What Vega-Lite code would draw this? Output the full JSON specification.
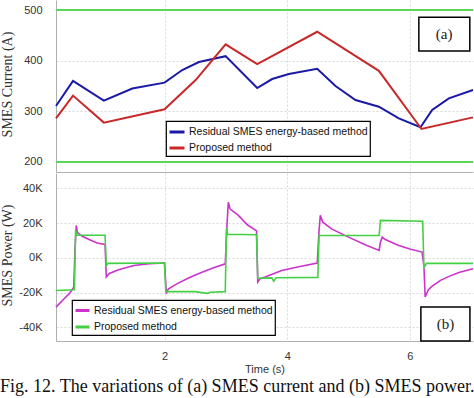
{
  "$schema": "https://vega.github.io/schema/vega-lite/v6.json",
  "padding": 0,
  "background": "white",
  "spacing": 1,
  "config": {
    "view": {"stroke": null},
    "axis": {
      "labelFont": "Liberation Sans",
      "labelFontSize": 11,
      "labelColor": "#333",
      "domainColor": "#b0b0b0",
      "gridColor": "#d9d9d9",
      "gridDash": [2, 2],
      "ticks": false,
      "titleFontWeight": "normal",
      "titleColor": "#333"
    }
  },
  "title": {
    "text": "Fig. 12. The variations of (a) SMES current and (b) SMES power.",
    "orient": "bottom",
    "anchor": "start",
    "frame": "bounds",
    "font": "Liberation Serif",
    "fontSize": 18,
    "fontWeight": "normal",
    "color": "#111",
    "offset": 4
  },
  "resolve": {"scale": {"color": "independent"}, "legend": {"color": "independent"}},
  "vconcat": [
    {
      "width": 417,
      "height": 172,
      "layer": [
        {
          "data": {"values": [{"lim": 500}, {"lim": 200}]},
          "mark": {"type": "rule", "color": "#5ad65a", "strokeWidth": 2},
          "encoding": {
            "y": {"field": "lim", "type": "quantitative", "scale": {"domain": [180, 520], "nice": false, "zero": false}}
          }
        },
        {
          "data": {"values": [
            {"t": 0.23, "I": 310.5, "method": "Residual SMES energy-based method"},
            {"t": 0.507, "I": 360, "method": "Residual SMES energy-based method"},
            {"t": 1.01, "I": 321, "method": "Residual SMES energy-based method"},
            {"t": 1.474, "I": 345, "method": "Residual SMES energy-based method"},
            {"t": 2.0, "I": 356.6, "method": "Residual SMES energy-based method"},
            {"t": 2.289, "I": 381.6, "method": "Residual SMES energy-based method"},
            {"t": 2.561, "I": 397.3, "method": "Residual SMES energy-based method"},
            {"t": 2.996, "I": 409, "method": "Residual SMES energy-based method"},
            {"t": 3.511, "I": 346, "method": "Residual SMES energy-based method"},
            {"t": 3.755, "I": 363.8, "method": "Residual SMES energy-based method"},
            {"t": 4.027, "I": 373.7, "method": "Residual SMES energy-based method"},
            {"t": 4.489, "I": 384, "method": "Residual SMES energy-based method"},
            {"t": 4.788, "I": 350, "method": "Residual SMES energy-based method"},
            {"t": 5.114, "I": 322.3, "method": "Residual SMES energy-based method"},
            {"t": 5.495, "I": 309, "method": "Residual SMES energy-based method"},
            {"t": 5.821, "I": 286, "method": "Residual SMES energy-based method"},
            {"t": 6.174, "I": 268.4, "method": "Residual SMES energy-based method"},
            {"t": 6.364, "I": 302.6, "method": "Residual SMES energy-based method"},
            {"t": 6.636, "I": 325.6, "method": "Residual SMES energy-based method"},
            {"t": 7.03, "I": 342, "method": "Residual SMES energy-based method"},
            {"t": 0.23, "I": 286, "method": "Proposed method"},
            {"t": 0.507, "I": 331, "method": "Proposed method"},
            {"t": 1.01, "I": 277.6, "method": "Proposed method"},
            {"t": 2.0, "I": 304, "method": "Proposed method"},
            {"t": 2.507, "I": 361.8, "method": "Proposed method"},
            {"t": 2.996, "I": 432.2, "method": "Proposed method"},
            {"t": 3.511, "I": 393.4, "method": "Proposed method"},
            {"t": 4.489, "I": 457.2, "method": "Proposed method"},
            {"t": 5.495, "I": 380, "method": "Proposed method"},
            {"t": 6.19, "I": 265, "method": "Proposed method"},
            {"t": 7.03, "I": 288, "method": "Proposed method"}
          ]},
          "mark": {"type": "line", "strokeWidth": 2},
          "encoding": {
            "x": {"field": "t", "type": "quantitative",
              "scale": {"domain": [0.23, 7.03], "nice": false, "zero": false},
              "axis": {"title": null, "labels": false, "values": [2, 4, 6], "grid": true, "domain": true}},
            "y": {"field": "I", "type": "quantitative",
              "scale": {"domain": [180, 520], "nice": false, "zero": false},
              "axis": {"title": "SMES Current (A)", "values": [200, 300, 400, 500], "labelPadding": 14,
                "titleFont": "Liberation Serif", "titleFontSize": 14, "titleX": -42, "titleY": 84, "grid": true}},
            "color": {"field": "method", "type": "nominal",
              "scale": {"domain": ["Residual SMES energy-based method", "Proposed method"], "range": ["#1a1aa6", "#c82828"]},
              "legend": {"title": null, "orient": "none", "legendX": 110, "legendY": 121,
                "fillColor": "white", "strokeColor": "black", "padding": 2, "rowPadding": 1,
                "labelFont": "Liberation Sans", "labelFontSize": 10.5, "labelColor": "#111", "labelLimit": 300,
                "symbolType": "stroke", "symbolSize": 225, "symbolStrokeWidth": 3, "labelOffset": 3,
                "encode": {"legend": {"update": {"strokeWidth": {"value": 1.2}}}}}}
          }
        },
        {
          "data": {"values": [{"x1": 6.147, "x2": 6.978, "y1": 486, "y2": 419, "xc": 6.56, "yc": 452.5, "label": "(a)"}]},
          "layer": [
            {"mark": {"type": "rect", "fill": "white", "stroke": "black", "strokeWidth": 1.5},
             "encoding": {"x": {"field": "x1", "type": "quantitative"}, "x2": {"field": "x2"}, "y": {"field": "y1", "type": "quantitative"}, "y2": {"field": "y2"}}},
            {"mark": {"type": "text", "font": "Liberation Serif", "fontSize": 15, "color": "#222"},
             "encoding": {"x": {"field": "xc", "type": "quantitative"}, "y": {"field": "yc", "type": "quantitative"}, "text": {"field": "label"}}}
          ]
        }
      ]
    },
    {
      "width": 417,
      "height": 168,
      "layer": [
        {
          "data": {"values": [
            {"t": 0.23, "P": -28.4, "method": "Residual SMES energy-based method"},
            {"t": 0.35, "P": -24, "method": "Residual SMES energy-based method"},
            {"t": 0.45, "P": -20.5, "method": "Residual SMES energy-based method"},
            {"t": 0.52, "P": -17, "method": "Residual SMES energy-based method"},
            {"t": 0.54, "P": 5, "method": "Residual SMES energy-based method"},
            {"t": 0.56, "P": 18.6, "method": "Residual SMES energy-based method"},
            {"t": 0.58, "P": 14.5, "method": "Residual SMES energy-based method"},
            {"t": 0.65, "P": 12.5, "method": "Residual SMES energy-based method"},
            {"t": 0.77, "P": 10.5, "method": "Residual SMES energy-based method"},
            {"t": 0.9, "P": 8.5, "method": "Residual SMES energy-based method"},
            {"t": 1.03, "P": 7.7, "method": "Residual SMES energy-based method"},
            {"t": 1.05, "P": -11, "method": "Residual SMES energy-based method"},
            {"t": 1.1, "P": -9, "method": "Residual SMES energy-based method"},
            {"t": 1.25, "P": -6.9, "method": "Residual SMES energy-based method"},
            {"t": 1.5, "P": -4.4, "method": "Residual SMES energy-based method"},
            {"t": 1.75, "P": -3.4, "method": "Residual SMES energy-based method"},
            {"t": 2.0, "P": -3, "method": "Residual SMES energy-based method"},
            {"t": 2.03, "P": -20.7, "method": "Residual SMES energy-based method"},
            {"t": 2.06, "P": -18, "method": "Residual SMES energy-based method"},
            {"t": 2.2, "P": -15, "method": "Residual SMES energy-based method"},
            {"t": 2.4, "P": -11.5, "method": "Residual SMES energy-based method"},
            {"t": 2.6, "P": -8.5, "method": "Residual SMES energy-based method"},
            {"t": 2.8, "P": -5.8, "method": "Residual SMES energy-based method"},
            {"t": 2.99, "P": -3.5, "method": "Residual SMES energy-based method"},
            {"t": 3.02, "P": 20, "method": "Residual SMES energy-based method"},
            {"t": 3.04, "P": 32, "method": "Residual SMES energy-based method"},
            {"t": 3.07, "P": 28, "method": "Residual SMES energy-based method"},
            {"t": 3.2, "P": 24.5, "method": "Residual SMES energy-based method"},
            {"t": 3.35, "P": 19, "method": "Residual SMES energy-based method"},
            {"t": 3.5, "P": 15.5, "method": "Residual SMES energy-based method"},
            {"t": 3.52, "P": -14, "method": "Residual SMES energy-based method"},
            {"t": 3.56, "P": -12, "method": "Residual SMES energy-based method"},
            {"t": 3.64, "P": -11, "method": "Residual SMES energy-based method"},
            {"t": 3.91, "P": -7.3, "method": "Residual SMES energy-based method"},
            {"t": 4.19, "P": -5.2, "method": "Residual SMES energy-based method"},
            {"t": 4.49, "P": -3, "method": "Residual SMES energy-based method"},
            {"t": 4.52, "P": 16, "method": "Residual SMES energy-based method"},
            {"t": 4.54, "P": 24.4, "method": "Residual SMES energy-based method"},
            {"t": 4.58, "P": 20.5, "method": "Residual SMES energy-based method"},
            {"t": 4.73, "P": 16.5, "method": "Residual SMES energy-based method"},
            {"t": 5.0, "P": 11.9, "method": "Residual SMES energy-based method"},
            {"t": 5.28, "P": 7.3, "method": "Residual SMES energy-based method"},
            {"t": 5.5, "P": 4.2, "method": "Residual SMES energy-based method"},
            {"t": 5.52, "P": 9, "method": "Residual SMES energy-based method"},
            {"t": 5.55, "P": 11.9, "method": "Residual SMES energy-based method"},
            {"t": 5.6, "P": 10.5, "method": "Residual SMES energy-based method"},
            {"t": 5.82, "P": 7.1, "method": "Residual SMES energy-based method"},
            {"t": 6.0, "P": 5, "method": "Residual SMES energy-based method"},
            {"t": 6.2, "P": 3.3, "method": "Residual SMES energy-based method"},
            {"t": 6.23, "P": -5, "method": "Residual SMES energy-based method"},
            {"t": 6.25, "P": -22.6, "method": "Residual SMES energy-based method"},
            {"t": 6.3, "P": -18.5, "method": "Residual SMES energy-based method"},
            {"t": 6.36, "P": -16.5, "method": "Residual SMES energy-based method"},
            {"t": 6.5, "P": -13, "method": "Residual SMES energy-based method"},
            {"t": 6.64, "P": -10.7, "method": "Residual SMES energy-based method"},
            {"t": 6.8, "P": -8.5, "method": "Residual SMES energy-based method"},
            {"t": 7.03, "P": -6.3, "method": "Residual SMES energy-based method"},
            {"t": 0.23, "P": -18.8, "method": "Proposed method"},
            {"t": 0.53, "P": -18.4, "method": "Proposed method"},
            {"t": 0.55, "P": 16, "method": "Proposed method"},
            {"t": 0.57, "P": 13, "method": "Proposed method"},
            {"t": 1.03, "P": 13, "method": "Proposed method"},
            {"t": 1.05, "P": -4.5, "method": "Proposed method"},
            {"t": 1.08, "P": -3.2, "method": "Proposed method"},
            {"t": 2.0, "P": -3, "method": "Proposed method"},
            {"t": 2.02, "P": -19.5, "method": "Proposed method"},
            {"t": 2.5, "P": -19.5, "method": "Proposed method"},
            {"t": 2.7, "P": -20.5, "method": "Proposed method"},
            {"t": 2.75, "P": -19.8, "method": "Proposed method"},
            {"t": 2.99, "P": -19.5, "method": "Proposed method"},
            {"t": 3.01, "P": 17, "method": "Proposed method"},
            {"t": 3.03, "P": 13.5, "method": "Proposed method"},
            {"t": 3.5, "P": 13.3, "method": "Proposed method"},
            {"t": 3.52, "P": -11.8, "method": "Proposed method"},
            {"t": 3.75, "P": -11.6, "method": "Proposed method"},
            {"t": 3.78, "P": -13.5, "method": "Proposed method"},
            {"t": 3.82, "P": -11.5, "method": "Proposed method"},
            {"t": 4.5, "P": -11.3, "method": "Proposed method"},
            {"t": 4.52, "P": 12.8, "method": "Proposed method"},
            {"t": 5.5, "P": 12.8, "method": "Proposed method"},
            {"t": 5.52, "P": 21.5, "method": "Proposed method"},
            {"t": 6.21, "P": 21, "method": "Proposed method"},
            {"t": 6.23, "P": -6, "method": "Proposed method"},
            {"t": 6.27, "P": -3.2, "method": "Proposed method"},
            {"t": 7.03, "P": -3.2, "method": "Proposed method"}
          ]},
          "mark": {"type": "line", "strokeWidth": 1.6},
          "encoding": {
            "x": {"field": "t", "type": "quantitative",
              "scale": {"domain": [0.23, 7.03], "nice": false, "zero": false},
              "axis": {"title": "Time (s)", "values": [2, 4, 6], "format": "d", "grid": true, "labelPadding": 9, "titlePadding": 2,
                "titleFont": "Liberation Sans", "titleFontSize": 11}},
            "y": {"field": "P", "type": "quantitative",
              "scale": {"domain": [-47.9, 48.8], "nice": false, "zero": false},
              "axis": {"title": "SMES Power (W)", "values": [-40, -20, 0, 20, 40], "labelExpr": "datum.value + 'K'", "labelPadding": 14,
                "titleFont": "Liberation Serif", "titleFontSize": 14, "titleX": -42, "titleY": 82, "grid": true}},
            "color": {"field": "method", "type": "nominal",
              "scale": {"domain": ["Residual SMES energy-based method", "Proposed method"], "range": ["#cc33cc", "#44d044"]},
              "legend": {"title": null, "orient": "none", "legendX": 16, "legendY": 127,
                "fillColor": "white", "strokeColor": "black", "padding": 2, "rowPadding": 1.5,
                "labelFont": "Liberation Sans", "labelFontSize": 10.5, "labelColor": "#111", "labelLimit": 300,
                "symbolType": "stroke", "symbolSize": 196, "symbolStrokeWidth": 3, "labelOffset": 3,
                "encode": {"legend": {"update": {"strokeWidth": {"value": 1.2}}}}}}
          }
        },
        {
          "data": {"values": [{"x1": 6.18, "x2": 6.98, "y1": -28.3, "y2": -47.9, "xc": 6.58, "yc": -38, "label": "(b)"}]},
          "layer": [
            {"mark": {"type": "rect", "fill": "white", "stroke": "black", "strokeWidth": 1.5},
             "encoding": {"x": {"field": "x1", "type": "quantitative"}, "x2": {"field": "x2"}, "y": {"field": "y1", "type": "quantitative"}, "y2": {"field": "y2"}}},
            {"mark": {"type": "text", "font": "Liberation Serif", "fontSize": 15, "color": "#222"},
             "encoding": {"x": {"field": "xc", "type": "quantitative"}, "y": {"field": "yc", "type": "quantitative"}, "text": {"field": "label"}}}
          ]
        }
      ]
    }
  ]
}
